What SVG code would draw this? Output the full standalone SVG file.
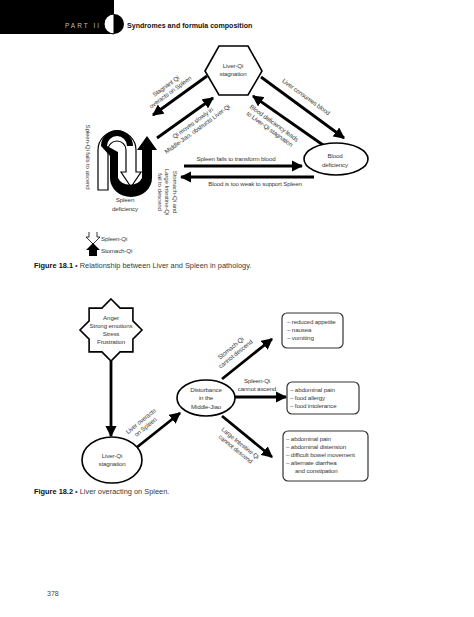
<svg xmlns="http://www.w3.org/2000/svg" width="474" height="617" viewBox="0 0 474 617">
<defs>
<style>
text{font-family:"Liberation Sans",Arial,sans-serif;fill:#383838;font-size:6.2px;letter-spacing:-0.15px}
.c{text-anchor:middle}
.shape{fill:#fff;stroke:#000;stroke-width:1.6}
.ln{stroke:#000;stroke-width:2.8;fill:none}
.box{fill:#fff;stroke:#333;stroke-width:1.2}
.cap{font-size:7.4px;letter-spacing:0}
.capb{font-weight:bold;fill:#111}
</style>
<marker id="ah" viewBox="0 0 10 10" refX="9" refY="5" markerWidth="4" markerHeight="4" markerUnits="strokeWidth" orient="auto">
<path d="M0,0 L10,5 L0,10 Z" fill="#000"/>
</marker>
</defs>

<g id="header">
<rect x="0" y="0" width="114" height="34" fill="#000"/>
<path d="M114,14 A10,10 0 0 0 114,34 Z" fill="#fff" stroke="#000" stroke-width="1"/>
<path d="M114,14 A10,10 0 0 1 114,34 Z" fill="#000"/>
<text x="65" y="27.5" style="fill:#bbb;font-size:6.5px;letter-spacing:2px">PART II</text>
<text x="127" y="27.5" style="font-weight:bold;fill:#111;font-size:7.1px;letter-spacing:0">Syndromes and formula composition</text>
</g>

<!-- Figure 18.1 -->
<g id="connectors1">
<line class="ln" x1="207" y1="76" x2="153" y2="115" marker-end="url(#ah)"/>
<line class="ln" x1="157" y1="138" x2="213" y2="98" marker-end="url(#ah)"/>
<line class="ln" x1="261" y1="77" x2="344" y2="138" marker-end="url(#ah)"/>
<line class="ln" x1="323" y1="145" x2="253" y2="96" marker-end="url(#ah)"/>
<line class="ln" x1="184" y1="166" x2="302" y2="166" marker-end="url(#ah)"/>
<line class="ln" x1="314" y1="177" x2="181" y2="177" marker-end="url(#ah)"/>
<g transform="translate(168,89) rotate(-36)"><text class="c" y="-1.5">Stagnant Qi</text><text class="c" y="6">overacts on Spleen</text></g>
<g transform="translate(195,126) rotate(-36)"><text class="c" y="-1.5">Qi moves slowly in</text><text class="c" y="6">Middle-Jiao, obstructs Liver-Qi</text></g>
<g transform="translate(306,97) rotate(36)"><text class="c" y="2">Liver consumes blood</text></g>
<g transform="translate(272,126) rotate(36)"><text class="c" y="-1.5">Blood deficiency leads</text><text class="c" y="6">to Liver-Qi stagnation</text></g>
<text class="c" x="236" y="161">Spleen fails to transform blood</text>
<text class="c" x="255" y="186">Blood is too weak  to support Spleen</text>
</g>

<g id="liverqi1">
<polygon class="shape" points="205,71 219,46 248,46 262,71 248,95 219,95"/>
<text class="c" x="233" y="68">Liver-Qi</text>
<text class="c" x="233" y="76">stagnation</text>
</g>

<g id="blood">
<ellipse class="shape" cx="336" cy="159" rx="32" ry="16" stroke-width="2"/>
<text class="c" x="335" y="158">Blood</text>
<text class="c" x="335" y="167">deficiency</text>
</g>

<g id="spleen">
<!-- white arrow (Spleen-Qi) -->
<path d="M98,190 L98,150 A19,19 0 0 1 136,150 L136,172 L141,172 L131,187 L121,172 L126,172 L126,150 A9,9 0 0 0 108,150 L108,190 Z" fill="#fff" stroke="#000" stroke-width="1.2"/>
<!-- black arrow (Stomach-Qi) -->
<path d="M133,146 A16,16 0 0 0 101,146 L110,156 L110,178 A21,19 0 0 0 152,178 L152,150 L157,150 L147,136 L137,150 L142,150 L142,178 A13,11 0 0 1 118,178 L118,152 L107,146 A10,10 0 0 1 127,146 Z" fill="#000"/>
<text class="c" x="125" y="202">Spleen</text>
<text class="c" x="125" y="211">deficiency</text>
<g transform="translate(88,157) rotate(90)"><text class="c" y="2">Spleen-Qi fails to ascend</text></g>
<g transform="translate(167,192) rotate(90)"><text class="c" y="-5.5">Stomach-Qi and</text><text class="c" y="2">Large Intestine-Qi</text><text class="c" y="9.5">fail to descend</text></g>
</g>

<g id="legend">
<path d="M89,232 L89,237 L86,237 L93,244 L100,237 L97,237 L97,232" fill="#fff" stroke="#000" stroke-width="0.8"/>
<text x="101" y="241">Spleen-Qi</text>
<path d="M86,250 L93,243 L100,250 L97,250 L97,256 L89,256 L89,250 Z" fill="#000"/>
<text x="101" y="253">Stomach-Qi</text>
</g>

<g id="caption1">
<text class="cap" x="34" y="268"><tspan class="capb">Figure 18.1</tspan> • Relationship between Liver and Spleen in pathology.</text>
</g>

<!-- Figure 18.2 -->
<g id="connectors2">
<line class="ln" x1="111" y1="361" x2="111" y2="436" marker-end="url(#ah)"/>
<line class="ln" x1="136" y1="448" x2="180" y2="413" marker-end="url(#ah)"/>
<line class="ln" x1="222" y1="379" x2="272" y2="339" marker-end="url(#ah)"/>
<line class="ln" x1="235" y1="397" x2="286" y2="397" marker-end="url(#ah)"/>
<line class="ln" x1="222" y1="416" x2="272" y2="457" marker-end="url(#ah)"/>
<g transform="translate(143,424) rotate(-39)"><text class="c" y="-1.5">Liver overacts</text><text class="c" y="6">on Spleen</text></g>
<g transform="translate(233,351) rotate(-39)"><text class="c" y="-1.5">Stomach-Qi</text><text class="c" y="6">cannot descend</text></g>
<text class="c" x="257" y="383">Spleen-Qi</text>
<text class="c" x="257" y="391">cannot ascend</text>
<g transform="translate(238,446) rotate(39)"><text class="c" y="-1.5">Large Intestine-Qi</text><text class="c" y="6">cannot descend</text></g>
</g>

<g id="emotions">
<polygon class="shape" points="111,299 120.1,308.1 132.9,308.1 132.9,320.9 142,330 132.9,339.1 132.9,351.9 120.1,351.9 111,361 101.9,351.9 89.1,351.9 89.1,339.1 80,330 89.1,320.9 89.1,308.1 101.9,308.1"/>
<text class="c" x="111" y="320">Anger</text>
<text class="c" x="111" y="328">Strong emotions</text>
<text class="c" x="111" y="336">Stress</text>
<text class="c" x="111" y="344">Frustration</text>
</g>

<g id="liverqi2">
<ellipse class="shape" cx="112" cy="460" rx="30" ry="23"/>
<text class="c" x="112" y="458">Liver-Qi</text>
<text class="c" x="112" y="466">stagnation</text>
</g>

<g id="disturbance">
<ellipse class="shape" cx="206" cy="398" rx="29" ry="18"/>
<text class="c" x="206" y="392">Disturbance</text>
<text class="c" x="206" y="400">in the</text>
<text class="c" x="206" y="409">Middle-Jiao</text>
</g>

<g id="box1">
<rect class="box" x="282" y="313" width="61" height="35" rx="5"/>
<text x="287" y="324">–  reduced appetite</text>
<text x="287" y="332">–  nausea</text>
<text x="287" y="340">–  vomiting</text>
</g>

<g id="box2">
<rect class="box" x="287" y="382" width="72" height="32" rx="5"/>
<text x="290" y="392">–   abdominal pain</text>
<text x="290" y="400">–   food allergy</text>
<text x="290" y="408">–   food intolerance</text>
</g>

<g id="box3">
<rect class="box" x="283" y="431" width="85" height="50" rx="5"/>
<text x="286" y="441">–   abdominal pain</text>
<text x="286" y="449">–   abdominal distension</text>
<text x="286" y="457">–   difficult bowel movement</text>
<text x="286" y="465">–   alternate diarrhea</text>
<text x="295" y="473">and constipation</text>
</g>

<g id="caption2">
<text class="cap" x="34" y="494"><tspan class="capb">Figure 18.2</tspan> • Liver overacting on Spleen.</text>
</g>

<g id="pagenum">
<text x="47" y="596" style="font-size:7px;fill:#444;letter-spacing:0">378</text>
</g>
</svg>
